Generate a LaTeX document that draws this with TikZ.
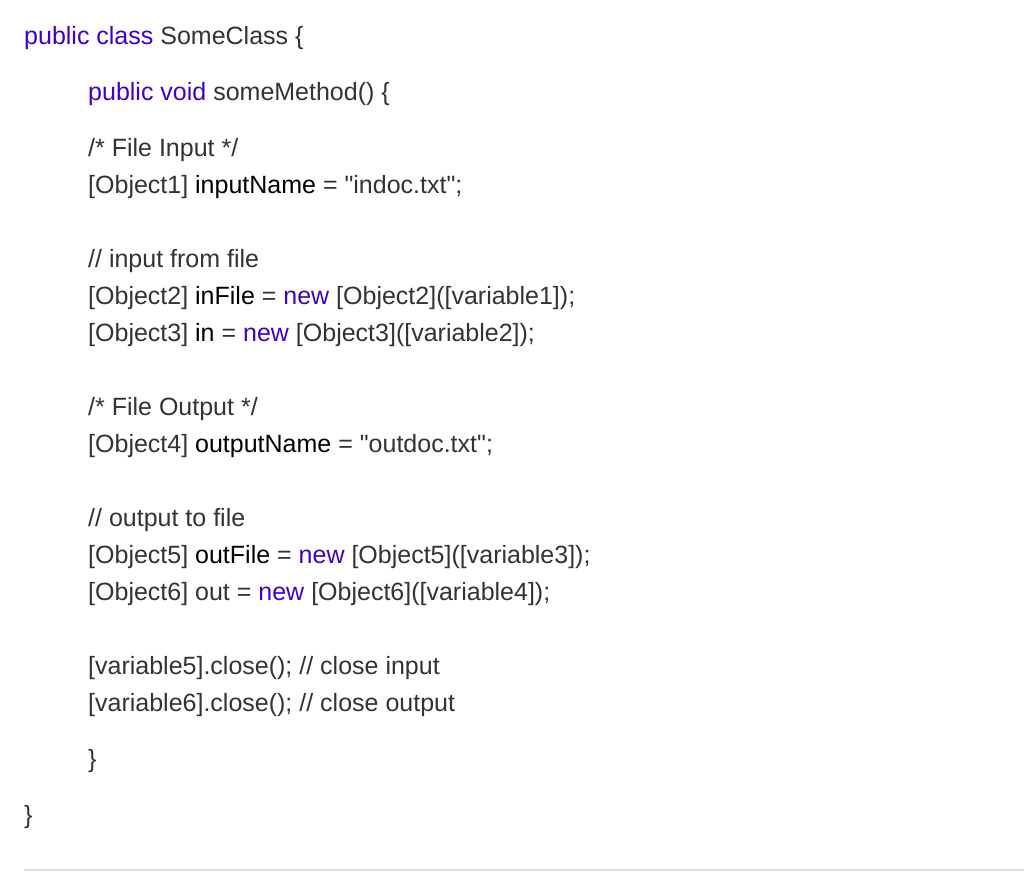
\documentclass[tikz,border=0pt]{standalone}
\usepackage{fontspec}
\setmainfont{Liberation Sans}[Ligatures=TeXOff]
\definecolor{kw}{RGB}{64,0,204}
\definecolor{tx}{RGB}{51,51,51}
\definecolor{rule}{RGB}{221,221,221}
\newcommand{\K}[1]{\textcolor{kw}{#1}}
\newcommand{\B}[1]{\textcolor{black}{#1}}
\newcommand{\Q}{\symbol{34}}
\begin{document}
\begin{tikzpicture}[x=1pt,y=-1pt,
  codeline/.style={anchor=base west,inner sep=0pt,font=\fontsize{25}{29}\selectfont,text=tx}]
\useasboundingbox (0,0) rectangle (1024,873);
\node[codeline] (l1) at (24,44) {\K{public class} SomeClass \{};
\node[codeline] (l2) at (88,100) {\K{public void} someMethod() \{};
\node[codeline] (l3) at (88,156) {/* File Input */};
\node[codeline] (l4) at (88,193) {[Object1] \B{inputName} = \Q indoc.txt\Q;};
\node[codeline] (l5) at (88,267) {// input from file};
\node[codeline] (l6) at (88,304) {[Object2] \B{inFile} = \K{new} [Object2]([variable1]);};
\node[codeline] (l7) at (88,341) {[Object3] \B{in} = \K{new} [Object3]([variable2]);};
\node[codeline] (l8) at (88,415) {/* File Output */};
\node[codeline] (l9) at (88,452) {[Object4] \B{outputName} = \Q outdoc.txt\Q;};
\node[codeline] (l10) at (88,526) {// output to file};
\node[codeline] (l11) at (88,563) {[Object5] \B{outFile} = \K{new} [Object5]([variable3]);};
\node[codeline] (l12) at (88,600) {[Object6] out = \K{new} [Object6]([variable4]);};
\node[codeline] (l13) at (88,674) {[variable5].close(); // close input};
\node[codeline] (l14) at (88,711) {[variable6].close(); // close output};
\node[codeline] (l15) at (88,767) {\}};
\node[codeline] (l16) at (24,823) {\}};
\coordinate (r1) at (24,870);
\coordinate (r2) at (1024,870);
\draw[rule,line width=1.5pt] (r1) -- (r2);
\end{tikzpicture}
\end{document}
